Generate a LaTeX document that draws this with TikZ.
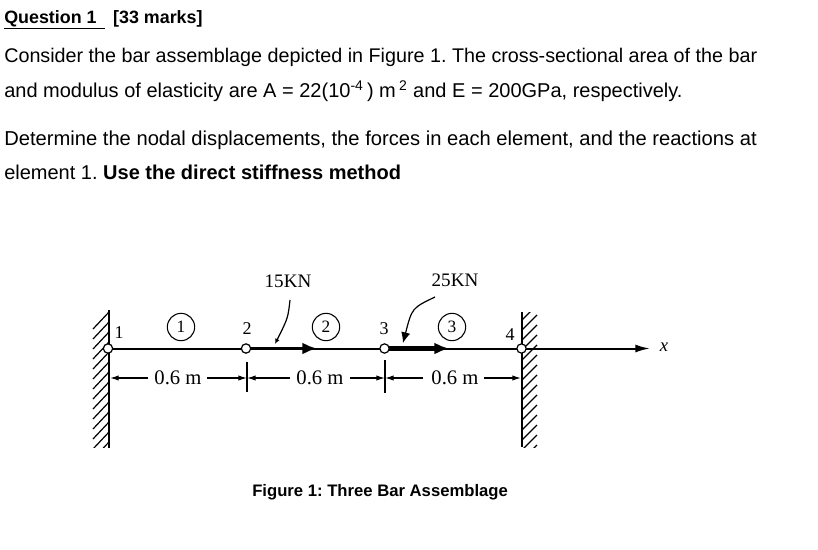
\documentclass[tikz,border=0pt]{standalone}
\usepackage{fontspec}
\setmainfont{Liberation Sans}
\newfontfamily\figfont{Liberation Serif}
\usetikzlibrary{positioning, arrows.meta}
\frenchspacing
\tikzset{
	para/.style = {anchor = base west, inner sep = 0, font = \fontsize{#1}{18}\selectfont},
	joint/.style = {circle, draw = black, fill = white, line width = 0.9pt, minimum size = 7pt, inner sep = 0},
	elem/.style = {circle, draw = black, line width = 0.8pt, minimum size = 20.5pt, inner sep = 0, font = \figfont\fontsize{13}{14}\selectfont},
	fig/.style = {inner sep = 0, font = \figfont\fontsize{14.3}{16}\selectfont},
	num/.style = {inner sep = 0, font = \figfont\fontsize{13.5}{16}\selectfont},
	dimtxt/.style = {inner sep = 0, font = \figfont\fontsize{15.5}{16}\selectfont},
	dim/.style = {-{Latex[length = 6.5pt, width = 4pt]}, line width = 0.9pt},
	thick bar/.style = {-{Latex[length = 11pt, width = 9pt]}},
	load/.style = {-{Latex[length = 8pt, width = 7pt]}, line width = 0.9pt}
}
\begin{document}
\begin{tikzpicture}[x = 0.75pt, y = -0.75pt]
		\useasboundingbox (0, 0) rectangle (818, 550);
		% text above
		\node[para = 13.4] (head) at (4, 23) {\textbf{\underline{Question 1\ \,}\hspace{6.5pt}[33 marks]}};
		\node[para = 14.81] (lineA) at (4, 62.5) {Consider the bar assemblage depicted in Figure 1. The cross-sectional area of the bar};
		\node[para = 15] (lineB) at (4, 97.5) {and modulus of elasticity are A = 22(10\textsuperscript{-4}\,) m\,\textsuperscript{2} and E = 200GPa, respectively.};
		\node[para = 15.13] (lineC) at (4, 145.5) {Determine the nodal displacements, the forces in each element, and the reactions at};
		\node[para = 15] (lineD) at (4, 179.5) {element 1. \textbf{Use the direct stiffness method}};
		% walls
		\begin{scope}
			\clip (85, 310) rectangle (110, 447);
			\foreach \y in {312, 322, ..., 452} {
				\draw[line width = 0.9pt] (109, \y) -- (93, \y + 17);
			}
		\end{scope}
		\begin{scope}
			\clip (522, 312) rectangle (545, 447);
			\foreach \y in {320, 330, ..., 460} {
				\draw[line width = 0.9pt] (522, \y) -- (537, \y - 15);
			}
		\end{scope}
		\draw[line width = 1.4pt] (109, 310) -- (109, 448);
		\draw[line width = 1.2pt] (522, 312) -- (522, 447);
		% joints
		\coordinate (n1) at (108, 348.5);
		\coordinate (n2) at (246, 348.5);
		\coordinate (n3) at (384.5, 348.5);
		\coordinate (n4) at (521.5, 348.5);
		\coordinate (xend) at (650, 348.5);
		\coordinate (endA) at (317, 348.5);
		\coordinate (endB) at (449, 348.5);
		% bar
		\draw[line width = 1.5pt] (n1) -- (n2);
		\draw[line width = 1.5pt] (n2) -- (n3);
		\draw[line width = 1.5pt] (n3) -- (n4);
		\draw[line width = 1.5pt, -{Latex[length = 11pt, width = 6pt]}] (n4) -- (xend);
		\draw[thick bar, line width = 2.4pt] (n2) -- (endA);
		\draw[thick bar, line width = 3.6pt] (n3) -- (endB);
		\node[joint] (j1) at (n1) {};
		\node[joint] (j2) at (n2) {};
		\node[joint] (j3) at (n3) {};
		\node[joint] (j4) at (n4) {};
		% labels
		\node[num] (l1) at (119, 333) {1};
		\node[num] (l2) at (247, 329) {2};
		\node[num] (l3) at (384, 329) {3};
		\node[num] (l4) at (510, 335) {4};
		\node[elem] (e1) at (181, 327) {1};
		\node[elem] (e2) at (326, 327) {2};
		\node[elem] (e3) at (452, 327) {3};
		\node[num, font = \figfont\itshape\fontsize{14}{16}\selectfont] (xlab) at (664, 347) {x};
		% loads
		\node[fig] (p1) at (288, 281) {15KN};
		\node[fig] (p2) at (455, 280) {25KN};
		\coordinate (p1a) at (290, 300);
		\coordinate (p1b) at (275, 344);
		\coordinate (p2a) at (435, 297);
		\coordinate (p2b) at (403, 343);
		\draw[load, -{Latex[length = 4pt, width = 3.5pt]}] (p1a) .. controls (288, 318) .. (p1b);
		\draw[load] (p2a) .. controls (412, 308) .. (p2b);
		% dimensions
		\node[dimtxt] (d1) at (178, 378) {0.6 m};
		\node[dimtxt] (d2) at (320, 378) {0.6 m};
		\node[dimtxt] (d3) at (455, 378) {0.6 m};
		\coordinate (wallA) at (110, 378);
		\coordinate (tickA) at (247, 378);
		\coordinate (tickB) at (385, 378);
		\coordinate (wallB) at (521, 378);
		\draw[line width = 0.9pt] (247, 362) -- (247, 392);
		\draw[line width = 0.9pt] (385, 360) -- (385, 393);
		\draw[dim] (d1) ++(-30, 0) -- (wallA);
		\draw[dim] (d1) ++(29, 0) -- (tickA);
		\draw[dim] (d2) ++(-30, 0) -- (tickA);
		\draw[dim] (d2) ++(30, 0) -- (tickB);
		\draw[dim] (d3) ++(-32, 0) -- (tickB);
		\draw[dim] (d3) ++(29, 0) -- (wallB);
		% caption
		\node[para = 12.5] (cap) at (252, 496.5) {\bfseries Figure 1: Three Bar Assemblage};
		\end{tikzpicture}
\end{document}
